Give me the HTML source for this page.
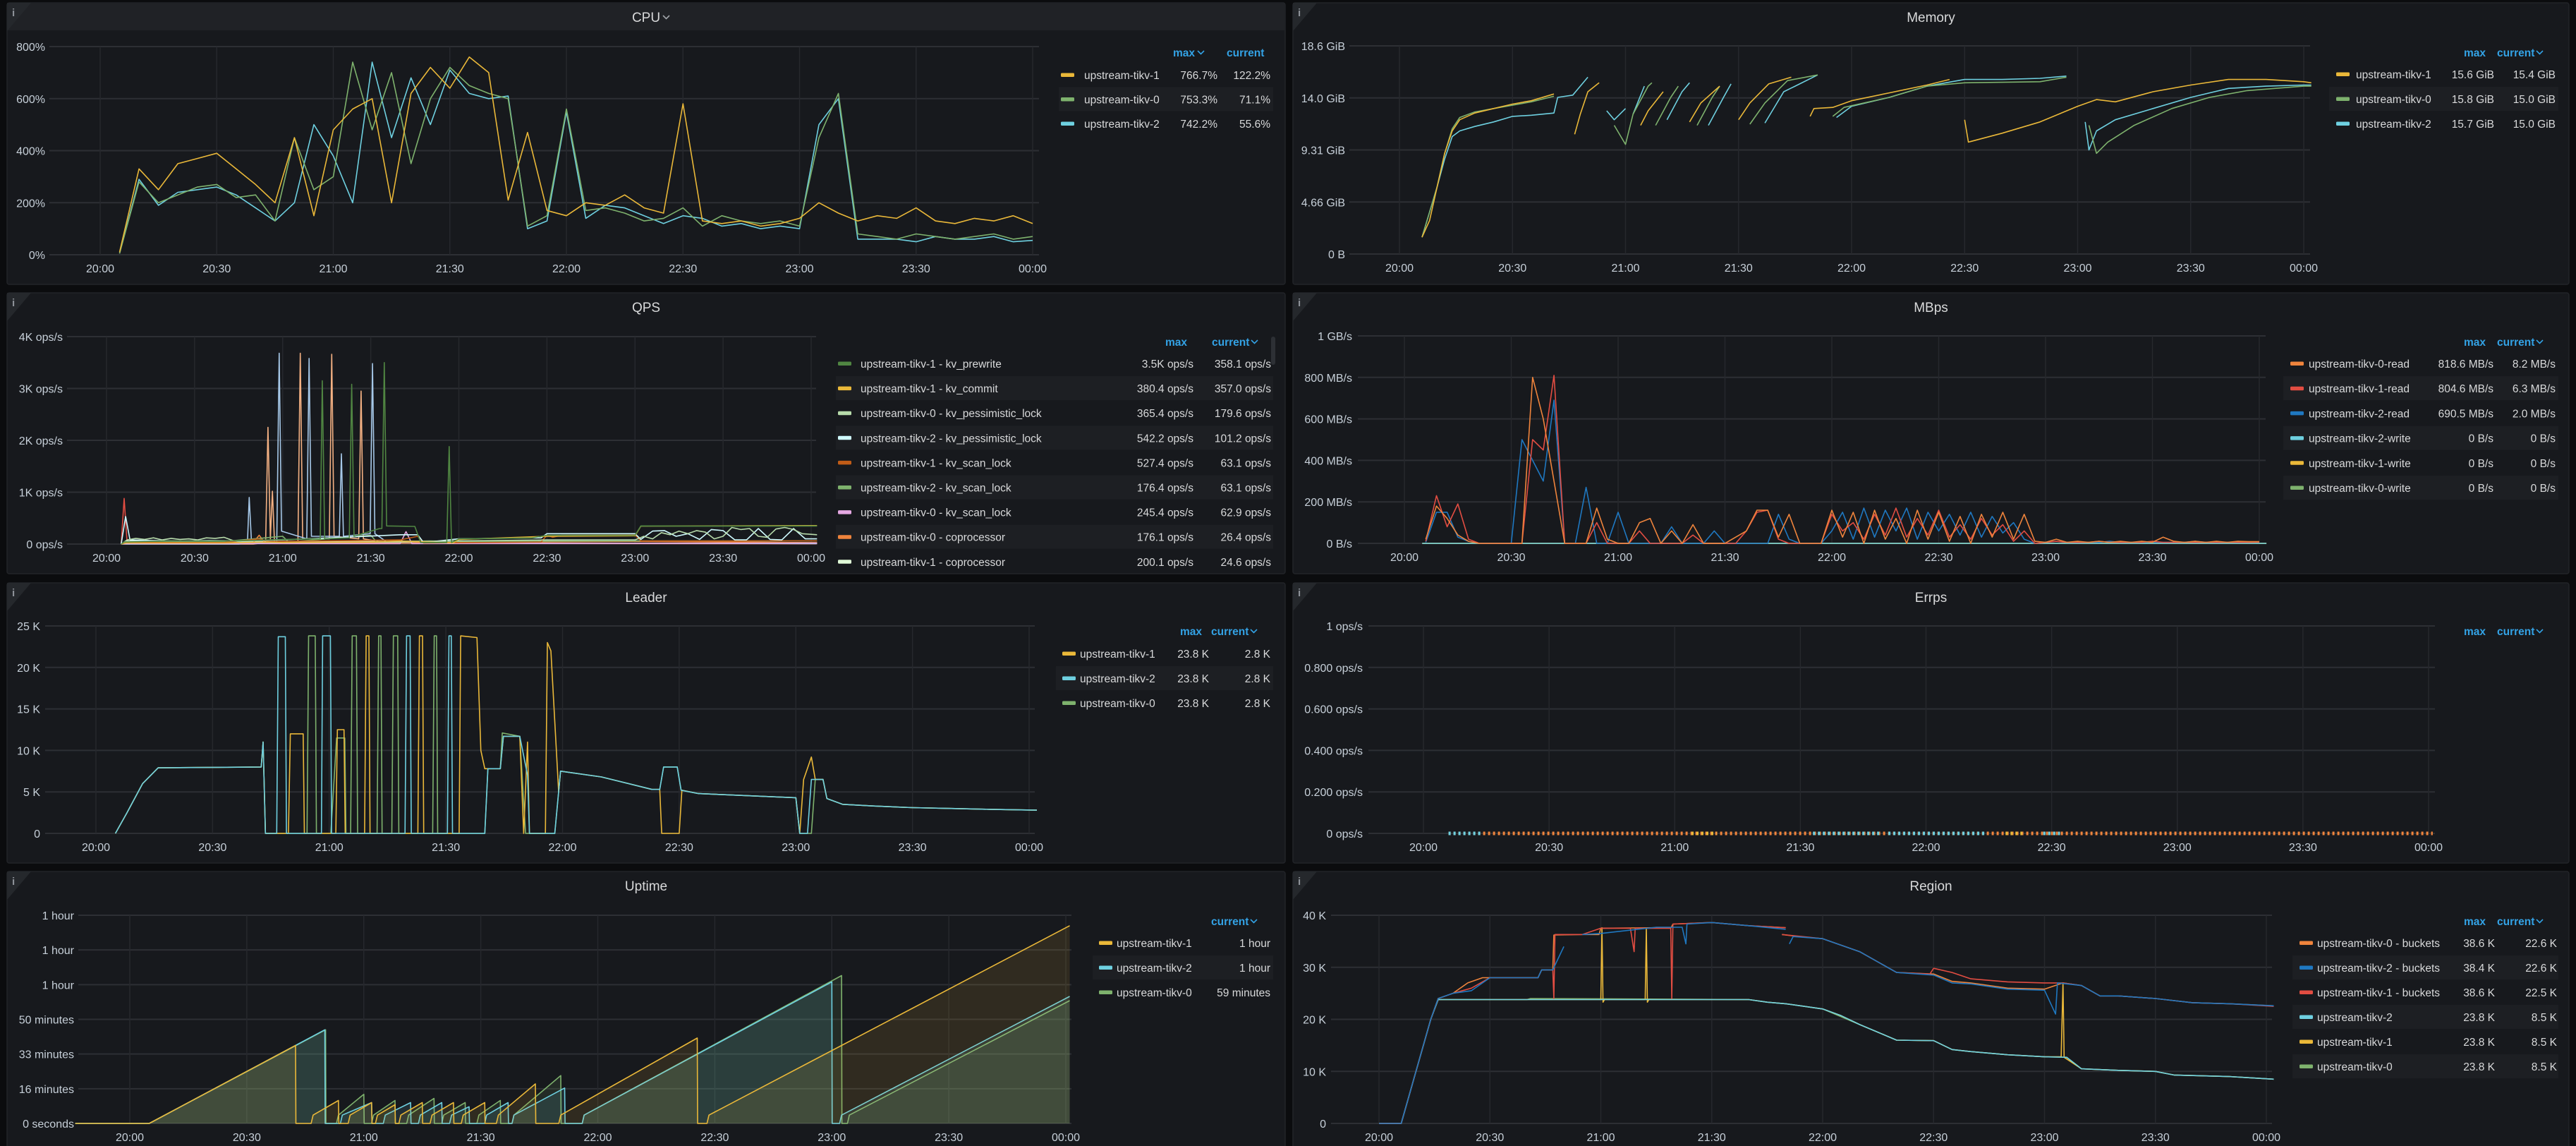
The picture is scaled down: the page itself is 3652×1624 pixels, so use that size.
<!DOCTYPE html>
<html><head><meta charset="utf-8">
<style>
html,body{margin:0;padding:0;background:#0b0c0e;width:3652px;height:1624px;overflow:hidden}
svg text{font-family:"Liberation Sans",sans-serif}
</style></head>
<body>
<svg id="dash" width="3652" height="1624" viewBox="0 0 3652 1624" xmlns="http://www.w3.org/2000/svg">
<rect x="0" y="0" width="3652" height="1624" fill="#0b0c0e"/>
<defs id="defs"></defs>
</svg>
<script>
// ---------- shared axis data ----------
const xTickMinutes = [0,30,60,90,120,150,180,210,240];
const xTickLabels = ['20:00','20:30','21:00','21:30','22:00','22:30','23:00','23:30','00:00'];

// ---------- CPU ----------
const cpuTicks = [0,200,400,600,800];
const cpuTickLabels = ['0%','200%','400%','600%','800%'];
const cpuTimes = [5,10,15,20,25,30,35,40,45,50,55,60,65,70,75,80,85,90,95,100,105,110,115,120,125,130,135,140,145,150,155,160,165,170,175,180,185,190,195,200,205,210,215,220,225,230,235,240];
const cpuTikv1 = [10,330,250,350,370,390,330,270,200,450,150,480,560,600,200,620,720,640,760,700,210,470,170,150,200,190,230,180,160,580,130,120,130,110,120,140,200,160,130,150,140,180,130,120,140,130,150,120];
const cpuTikv0 = [5,280,200,230,260,270,220,230,130,450,250,300,740,480,700,350,600,720,650,620,600,110,150,560,170,180,160,130,140,180,110,150,130,120,130,110,450,620,80,70,60,80,70,60,70,80,60,70];
const cpuTikv2 = [5,290,190,240,250,260,230,180,130,200,500,380,200,740,450,680,500,710,620,600,610,100,130,550,140,190,180,150,120,150,140,110,120,100,110,100,500,600,60,60,60,50,70,60,60,70,50,55];
const cpuNames = ['upstream-tikv-1','upstream-tikv-0','upstream-tikv-2'];
const cpuMax = ['766.7%','753.3%','742.2%'];
const cpuCur = ['122.2%','71.1%','55.6%'];

// ---------- Memory ----------
const memTicks = [0,4.65,9.3,13.95,18.6];
const memTickLabels = ['0 B','4.66 GiB','9.31 GiB','14.0 GiB','18.6 GiB'];
const memTikv1 = [[6,1.5],[8,3],[10,6],[12,9],[14,11],[16,12],[20,12.6],[25,13],[30,13.4],[35,13.7],[41,14.3],null,[46.5,10.7],[48,12.5],[50,14.5],[53,15.3],null,[64,11.5],[66,12.8],[70,14.5],null,[77,11.8],[80,13.5],[85,15.0],null,[90,12],[93,13.5],[98,15.2],[104,15.8],null,[109,12.3],[110,13.0],[115,13.1],[120,13.7],[130,14.4],[140,15.1],[146,15.6],null,[150,12],[151,10],[160,10.8],[170,11.8],[180,13.2],[185,13.8],[190,13.6],[200,14.5],[210,15.1],[220,15.6],[230,15.6],[240,15.4],[242,15.3]];
const memTikv0 = [[6,1.5],[10,6],[12,9],[14,11.2],[16,12.2],[20,12.7],[25,13],[30,13.3],[35,13.6],[41,14.1],null,[57,11.5],[60,9.8],[62,12.5],[66,15],[67,15.3],null,[68,11.5],[72,14],[74,15],null,[79,11.5],[83,14],[85,15],null,[93,11.6],[97,13.5],[103,15.5],[111,16.0],null,[115,12.3],[118,13.1],[130,14],[140,15],[150,15.3],[170,15.4],[177,15.8],null,[183,11.5],[185,9],[188,10],[195,11.5],[205,13],[215,14],[225,14.6],[240,15.0],[242,15.0]];
const memTikv2 = [[6,1.5],[10,6],[12,8.5],[14,10.5],[16,11],[20,11.4],[25,11.8],[30,12.3],[35,12.4],[41,12.6],[42,14],[46,14.2],[50,15.8],null,[55,12.8],[57,12],[60,13],null,[62,12.5],[65,15],null,[71,12],[75,14.5],[77,15.3],null,[82,11.5],[86,14],[88,15.2],null,[97,11.7],[102,14.5],[105,15.0],[111,16.0],null,[116,12.2],[120,13.2],[130,14],[140,15],[150,15.6],[160,15.6],[170,15.7],[177,15.9],null,[182,11.8],[183,9.3],[185,11],[190,12],[200,13],[210,14],[220,14.8],[230,15.0],[240,15.1],[242,15.1]];
const memNames = ['upstream-tikv-1','upstream-tikv-0','upstream-tikv-2'];
const memMax = ['15.6 GiB','15.8 GiB','15.7 GiB'];
const memCur = ['15.4 GiB','15.0 GiB','15.0 GiB'];

// ---------- QPS ----------
const qpsTicks = [0,1000,2000,3000,4000];
const qpsTickLabels = ['0 ops/s','1K ops/s','2K ops/s','3K ops/s','4K ops/s'];
const qPrewrite1 = [[5,0],[6,40],[20,60],[40,60],[50,70],[55,80],[70,100],[72.8,100],[73.5,3150],[74.3,100],[82.7,120],[83.5,3080],[84.3,150],[93,300],[93.8,300],[94.6,3500],[95.4,350],[105,340],[107,30],[115.9,30],[116.7,1880],[117.5,30],[120,100],[135,110],[145,120],[150,170],[180,170],[182,350],[200,345],[220,345],[242,348]];
const qCommit1 = [[5,0],[6,20],[40,20],[55,40],[60,30],[90,40],[100,60],[118,20],[120,90],[150,150],[180,160],[182,345],[242,357]];
const qPess0 = [[5,0],[7,80],[10,110],[13,90],[16,120],[19,80],[22,110],[25,90],[28,100],[31,80],[34,120],[37,110],[40,130],[43,70],[46,40],[60,30],[100,40],[120,60],[150,80],[180,80],[183,150],[186,100],[189,220],[192,180],[195,250],[198,200],[201,260],[204,230],[207,100],[210,150],[213,320],[216,280],[219,300],[222,150],[225,130],[228,290],[231,320],[234,280],[237,200],[242,180]];
const qPess2 = [[5,0],[6.5,530],[8,80],[15,70],[25,60],[35,70],[45,60],[60,80],[100,180],[106,180],[108,30],[120,100],[148,120],[150,200],[180,200],[182,90],[186,250],[190,260],[194,150],[198,200],[202,90],[206,280],[210,260],[214,80],[218,80],[222,300],[226,90],[230,80],[234,300],[238,100],[242,101]];
const qScan1 = [[5,0],[7,30],[40,30],[52,100],[55,50],[100,80],[106,150],[108,20],[148,40],[150,170],[152,130],[155,170],[180,175],[182,60],[242,63]];
const qScan2 = [[5,0],[7,40],[40,50],[60,150],[62,40],[90,170],[92,40],[110,60],[120,50],[180,60],[242,63]];
const qScan0 = [[5,10],[100,10],[102,240],[104,10],[242,20]];
const qCopr0 = [[5,0],[8,30],[50,30],[52,170],[54,20],[120,30],[150,40],[180,50],[242,26]];
const qCopr1 = [[5,0],[7,60],[20,50],[40,60],[60,40],[120,60],[180,60],[242,25]];
const qPrewrite2 = [[5,0],[45,0],[48,20],[48.6,900],[49.4,20],[58,50],[58.8,3680],[59.6,250],[68.2,100],[69,3580],[69.8,150],[79.3,150],[80,1740],[80.7,150],[89.8,200],[90.6,3480],[91.4,200],[96,20],[242,10]];
const qPrewrite0 = [[5,0],[50,0],[54.2,30],[55,2250],[55.8,100],[56.5,1020],[57.2,50],[65.2,50],[66,3680],[66.8,100],[75.9,100],[76.7,3660],[77.5,150],[85.9,100],[86.7,2950],[87.5,100],[96,20],[242,10]];
const qCopr2 = [[5,0],[6,880],[7,50],[10,20],[242,5]];
const qpsNames = ['upstream-tikv-1 - kv_prewrite','upstream-tikv-1 - kv_commit','upstream-tikv-0 - kv_pessimistic_lock','upstream-tikv-2 - kv_pessimistic_lock','upstream-tikv-1 - kv_scan_lock','upstream-tikv-2 - kv_scan_lock','upstream-tikv-0 - kv_scan_lock','upstream-tikv-0 - coprocessor','upstream-tikv-1 - coprocessor','upstream-tikv-2 - kv_prewrite','upstream-tikv-0 - kv_prewrite','upstream-tikv-2 - coprocessor'];
const qpsMax = ['3.5K ops/s','380.4 ops/s','365.4 ops/s','542.2 ops/s','527.4 ops/s','176.4 ops/s','245.4 ops/s','176.1 ops/s','200.1 ops/s','3.7K ops/s','3.7K ops/s','880.0 ops/s'];
const qpsCur = ['358.1 ops/s','357.0 ops/s','179.6 ops/s','101.2 ops/s','63.1 ops/s','63.1 ops/s','62.9 ops/s','26.4 ops/s','24.6 ops/s','10.0 ops/s','10.0 ops/s','5.0 ops/s'];

// ---------- MBps ----------
const mbTicks = [0,200,400,600,800,1000];
const mbTickLabels = ['0 B/s','200 MB/s','400 MB/s','600 MB/s','800 MB/s','1 GB/s'];
const mbTimes = [0,3,6,9,12,15,18,21,24,27,30,33,36,39,42,45,48,51,54,57,60,63,66,69,72,75,78,81,84,87,90,93,96,99,102,105,108,111,114,117,120,123,126,129,132,135,138,141,144,147,150,153,156,159,162,165,168,171,174,177,180,183,186,189,192,195,198,201,204,207,210,213,216,219,222,225,228,231,234,237,240];
const mbRead0 = [null,null,20,180,120,40,10,0,0,0, 0,0,800,600,300,0,0,0,170,20, 0,0,100,120,0,60,0,90,0,0, 0,30,60,160,160,30,140,0,0,0, 160,30,150,0,160,20,120,0,160,20, 150,10,130,0,140,30,150,20,140,10, 5,20,5,10,5,10,5,10,5,10, 5,30,10,5,10,5,10,5,10,8, 8];
const mbRead1 = [null,null,10,230,80,190,20,0,0,0, 0,0,500,450,810,0,0,0,100,0, 0,0,60,0,0,0,0,40,0,0, 0,0,60,150,160,20,0,0,0,0, 140,60,100,20,140,40,170,30,120,40, 160,30,90,20,120,40,90,10,60,0, 5,10,5,5,5,10,5,5,5,5, 10,5,5,5,5,5,5,5,5,5, 6];
const mbRead2 = [null,null,5,150,150,30,10,0,0,0, 0,500,400,300,690,0,0,270,0,0, 150,0,0,0,0,80,0,0,0,60, 0,0,0,0,0,140,20,0,0,0, 60,150,20,170,30,160,60,170,20,150, 60,140,40,150,30,130,50,100,20,0, 5,10,5,5,5,5,10,5,5,5, 5,5,5,5,10,5,5,5,5,5, 5];
const mbWrite2 = [[5,0],[242,0]];
const mbWrite1 = [[5,0],[242,0]];
const mbWrite0 = [[5,0],[242,0]];
const mbNames = ['upstream-tikv-0-read','upstream-tikv-1-read','upstream-tikv-2-read','upstream-tikv-2-write','upstream-tikv-1-write','upstream-tikv-0-write'];
const mbMax = ['818.6 MB/s','804.6 MB/s','690.5 MB/s','0 B/s','0 B/s','0 B/s'];
const mbCur = ['8.2 MB/s','6.3 MB/s','2.0 MB/s','0 B/s','0 B/s','0 B/s'];

// ---------- Leader ----------
const leaderTicks = [0,5,10,15,20,25];
const leaderTickLabels = ['0','5 K','10 K','15 K','20 K','25 K'];
const leaderHead = [[5,0],[8,2.5],[12,6],[16,7.9],[42.5,8],[43,11]];
const leaderMid = [[119.5,7.5],[130,6.8],[143,5.3],[145,5.3]];
const leaderTail = [[188,4.2],[192,3.5],[200,3.3],[210,3.1],[220,3.0],[230,2.9],[242,2.8]];
const leaderTikv1 = leaderHead.concat([[43.6,0],[49.5,0],[50,12],[53.3,12],[53.6,0],[61.7,0],[62.1,12.5],[63.8,12.5],[64.1,0],[69.1,0],[69.5,23.8],[70.2,23.8],[70.5,0],[82.8,0],[83.2,23.8],[84,23.8],[84.3,0],[93.4,0],[93.8,23.8],[98,23.6],[99,10],[100,7.8],[104,7.8],[104.8,11.7],[109,11.7],[110,0],[111,11],[111.5,0],[115.6,0],[116.1,23],[117,22],[119,5]], leaderMid, [[145.5,0],[150,0],[150.7,5.2],[155,4.8],[165,4.6],[175,4.4],[180,4.3],[181,0],[182,6.5],[184,9.2],[185,6.5],[187,6.5]], leaderTail);
const leaderTikv2 = leaderHead.concat([[43.6,0],[46.5,0],[46.9,23.7],[48.7,23.7],[49,0],[58,0],[58.3,23.8],[60.3,23.8],[60.6,0],[79.5,0],[79.9,23.8],[80.8,23.8],[81.1,0],[90.4,0],[90.8,23.8],[91.4,23.8],[91.7,0],[100,0],[100.8,7.8],[104,7.8],[104.8,11.7],[109,11.7],[111,7],[111.5,0],[118,0]], leaderMid, [[146,8],[149.5,8],[150.5,5.2],[155,4.8],[165,4.6],[175,4.4],[180,4.3],[181,0],[183,0],[184,6.5],[187,6.5]], leaderTail);
const leaderTikv0 = leaderHead.concat([[43.6,0],[54.3,0],[54.7,23.8],[56.4,23.8],[56.7,0],[60.4,0],[61.9,11.5],[64,11.5],[64.3,0],[65.5,0],[65.9,23.8],[67,23.8],[67.3,0],[72.3,0],[72.7,23.8],[73.3,23.8],[73.6,0],[76.1,0],[76.5,23.8],[77.6,23.8],[77.9,0],[86.6,0],[87,23.8],[87.6,23.8],[87.9,0],[100,0],[100.8,7.8],[104,7.8],[104.5,12.1],[109,11.7],[110.5,0],[118,0]], leaderMid, [[146,8],[149.5,8],[150.5,5.2],[155,4.8],[165,4.6],[175,4.4],[180,4.3],[181,0],[184,0],[185,6.5],[187,6.5]], leaderTail);
const leaderNames = ['upstream-tikv-1','upstream-tikv-2','upstream-tikv-0'];
const leaderMax = ['23.8 K','23.8 K','23.8 K'];
const leaderCur = ['2.8 K','2.8 K','2.8 K'];

// ---------- Errps ----------
const errTicks = [0,0.2,0.4,0.6,0.8,1];
const errTickLabels = ['0 ops/s','0.200 ops/s','0.400 ops/s','0.600 ops/s','0.800 ops/s','1 ops/s'];
const errTikv0 = [[6,0],[241,0]];
const errTikv2 = [[6,0],[14,0],null,[93,0],[109,0],null,[111,0],[134,0],null,[148,0],[152,0]];
const errTikv1 = [[64,0],[70,0],null,[139,0],[143,0]];

// ---------- Uptime ----------
const upTicks = [0,16.67,33.33,50,66.67,83.33,100];
const upTickLabels = ['0 seconds','16 minutes','33 minutes','50 minutes','1 hour','1 hour','1 hour'];
const upTikv1 = [[-14,0],[5,0],[42.5,37.5],[42.6,0],[46.5,0],[47,4],[53.5,11],[53.6,0],[56,0],[56.5,4],[62,10],[62.1,0],[63,0],[63.5,4],[68,9],[68.1,0],[69,0],[69.5,4],[75,10],[75.1,0],[77,0],[77.5,4],[83,10],[83.1,0],[85,0],[85.5,4],[91,10],[91.1,0],[94,0],[94.5,4],[104,19],[104.1,0],[110,0],[110.5,4],[145.5,41],[145.6,0],[148,0],[148.5,4],[241,95]];
const upTikv2 = [[-14,0],[5,0],[50,45],[50.1,0],[54,0],[54.5,4],[62,10],[62.1,0],[65,0],[65.5,4],[72,10],[72.1,0],[74,0],[74.5,4],[80,10],[80.1,0],[82,0],[82.5,4],[87,8],[87.1,0],[91,0],[91.5,4],[97,10],[97.1,0],[98,0],[98.5,4],[111.5,17],[111.6,0],[116,0],[116.5,4],[180,68],[180.1,0],[182,0],[182.5,4],[241,61]];
const upTikv0 = [[-14,0],[5,0],[50.2,45],[50.3,0],[53,0],[53.5,4],[60,14],[60.1,0],[62,0],[62.5,4],[68,11],[68.1,0],[71,0],[71.5,4],[78,12],[78.1,0],[80,0],[80.5,4],[86,10],[86.1,0],[89,0],[89.5,4],[95,11],[95.1,0],[98,0],[98.5,4],[110.5,23],[110.6,0],[116,0],[116.5,4],[182.5,71],[182.6,0],[184,0],[184.5,4],[241,59]];
const upNames = ['upstream-tikv-1','upstream-tikv-2','upstream-tikv-0'];
const upCur = ['1 hour','1 hour','59 minutes'];

// ---------- Region ----------
const rgTicks = [0,10,20,30,40];
const rgTickLabels = ['0','10 K','20 K','30 K','40 K'];
const rgBuckets0 = [[0,0],[6,0],[10,10],[14,20],[16,24],[20,25],[24,27],[28,28],[43,28],[44,29.5],[47,29.5],[47.3,36.2],[55,36.3],[59.5,36.3],[60,37.5],[75,37.6],[79,37.6],[79.5,38.3],[90,38.6],[100,38],[110,37.6],null,[109,36.3],[115,35.8],[120,35.5],[130,33],[140,29],[150,28.7],[155,27.3],[160,27],[170,26],[180,25.8],[185,27],[190,26.5],[195,24.5],[200,24.5],[210,24],[220,23.2],[230,23],[242,22.6]];
const rgBuckets2 = [[0,0],[6,0],[10,10],[14,20],[16,24],[20,25],[25,25.5],[30,28],[43,28],[44,29.5],[47,29.5],[50,34],null,[55,36.3],[60,36.5],[75,37.7],[82,37.7],[83,34.5],[83.3,38.3],[90,38.6],[100,38],[110,37.3],null,[111,34.5],[112,35.9],[120,35.5],[130,33],[140,29],[150,28.5],[155,27],[160,26.8],[170,25.8],[180,25.6],[183,21],[183.5,27],[190,26.5],[195,24.5],[200,24.5],[210,24],[220,23.2],[230,23],[242,22.6]];
const rgBuckets1 = [[0,0],[6,0],[10,10],[14,20],[16,24],[20,25],[25,26],[30,28],[43,28],[44,29.5],[47,29.5],[47.3,24],[47.6,36.3],[55,36.3],[60,37.5],[68,37.5],[69,33],[69.3,37.5],[78.9,37.5],[79.2,24],[79.5,38.3],[90,38.6],[100,38],[110,37.6],null,[109,36.3],[120,35.5],[130,33],[140,29],[149,28.7],[150,29.8],[155,29],[160,27.8],[170,27.2],[180,27],[185,27],[190,26.5],[195,24.5],[200,24.5],[210,24],[220,23.2],[230,23],[242,22.5]];
const rgTikv2 = [[0,0],[6,0],[10,10],[14,20],[16,23.8],[100,23.8],[105,23.3],[110,23],[115,22.5],[120,22],[125,20.7],[130,19],[135,17.5],[140,16],[150,15.9],[155,14.2],[160,13.8],[170,13.2],[180,12.8],[186,12.7],[190,10.5],[200,10.2],[210,10],[215,9.3],[230,9],[242,8.5]];
const rgTikv1 = [[0,0],[6,0],[10,10],[14,20],[16,23.8],[60,23.8],[60.3,37.6],[60.6,23.3],[61,23.8],[72,23.8],[72.3,37.5],[72.6,23.3],[73,23.8],[100,23.8],[105,23.3],[110,23],[115,22.5],[120,22],[125,20.7],[130,19],[135,17.5],[140,16],[150,15.9],[155,14.2],[160,13.8],[170,13.2],[180,12.8],[184.5,12.8],[185,27],[185.3,12.7],[190,10.5],[200,10.2],[210,10],[215,9.3],[230,9],[242,8.5]];
const rgTikv0 = [[0,0],[6,0],[10,10],[14,20],[16,23.8],[40,23.8],[41,24],[100,23.8],[105,23.3],[110,23],[120,22],[130,19],[140,16],[150,15.9],[155,14.2],[160,13.8],[170,13.2],[180,12.8],[186,12.7],[190,10.5],[200,10.2],[210,10],[215,9.3],[230,9],[242,8.5]];
const rgNames = ['upstream-tikv-0 - buckets','upstream-tikv-2 - buckets','upstream-tikv-1 - buckets','upstream-tikv-2','upstream-tikv-1','upstream-tikv-0'];
const rgMax = ['38.6 K','38.4 K','38.6 K','23.8 K','23.8 K','23.8 K'];
const rgCur = ['22.6 K','22.6 K','22.5 K','8.5 K','8.5 K','8.5 K'];

// ---------- rendering ----------
const root = document.getElementById('dash');
const defs = document.getElementById('defs');
const NS = 'http://www.w3.org/2000/svg';
function mk(tag, attrs, parent){const e=document.createElementNS(NS,tag);for(const k in attrs)e.setAttribute(k,attrs[k]);(parent||root).appendChild(e);return e;}
function txt(str, attrs, parent){const e=mk('text',attrs,parent);e.textContent=str;return e;}
function zip(ts, vs){return ts.map((t,i)=> vs[i]===null ? null : [t, vs[i]]);}
function chev(x, y, color, parent){
  const c = mk('path',{d:'M'+x+','+y+' l4.5,4.5 l4.5,-4.5',fill:'none',stroke:color,'stroke-width':1.6},parent);
  
  
  return c;
}

const Y='#EAB839', G='#7EB26D', C='#6ED0E0', O='#EF843C', R='#E24D42', B='#1F78C1';

const panels = [
  {id:'cpu',title:'CPU',x:10,y:4,w:1812,h:399,hover:true},
  {id:'memory',title:'Memory',x:1833,y:4,w:1809,h:399},
  {id:'qps',title:'QPS',x:10,y:415,w:1812,h:398},
  {id:'mbps',title:'MBps',x:1833,y:415,w:1809,h:398},
  {id:'leader',title:'Leader',x:10,y:826,w:1812,h:397},
  {id:'errps',title:'Errps',x:1833,y:826,w:1809,h:397},
  {id:'uptime',title:'Uptime',x:10,y:1235,w:1812,h:395},
  {id:'region',title:'Region',x:1833,y:1235,w:1809,h:395}
];

panels.forEach(p=>{
  const cp = mk('clipPath',{id:'clip-'+p.id},defs);
  mk('rect',{x:p.x,y:p.y,width:p.w,height:p.h},cp);
  const g = mk('g',{});
  
  
  const bg = mk('rect',{x:p.x,y:p.y,width:p.w,height:p.h,fill:'#17191d',stroke:'#222428','stroke-width':1.5,rx:3},g);
  
  
  if(p.hover){
    const hb = mk('rect',{x:p.x+1,y:p.y+1,width:p.w-2,height:38,fill:'#202226'},g);
    
    
  }
  const tri = mk('polygon',{points:(p.x)+','+(p.y)+' '+(p.x+34)+','+(p.y)+' '+(p.x)+','+(p.y+40),fill:'#25282c'},g);
  
  
  const it = txt('i',{x:p.x+7,y:p.y+19,'font-size':15,'font-weight':'bold',fill:'#8e939a'},g);
  
  
  const tt = txt(p.title,{x:p.x+p.w/2,y:p.y+27,'text-anchor':'middle','font-size':19,fill:'#d8d9da'},g);
  
  
  if(p.hover){ chev(p.x+p.w/2+24, p.y+18, '#9fa3a8', g); }
});

function drawChart(c){
  const g = mk('g',{'clip-path':'url(#clip-'+c.id+')'});
  
  
  const sx = t => c.x0 + (c.x1-c.x0)*t/240;
  const sy = v => c.yb - (c.yb-c.yt)*v/c.ymax;
  c.yTicks.forEach((v,i)=>{
    const ln = mk('line',{x1:c.gl,x2:c.gr,y1:sy(v),y2:sy(v),stroke:'#2d2f34','stroke-width':2},g);
    
    
    const lb = txt(c.yLabels[i],{x:c.lx,y:sy(v)+6,'text-anchor':'end','font-size':16,fill:'#c7d0d9'},g);
    
    
  });
  xTickMinutes.forEach((m,i)=>{
    const ln = mk('line',{x1:sx(m),x2:sx(m),y1:c.yt,y2:c.yb,stroke:'#26282d','stroke-width':1.5},g);
    
    
    const lb = txt(xTickLabels[i],{x:sx(m),y:c.yb+25,'text-anchor':'middle','font-size':16,fill:'#c7d0d9'},g);
    
    
  });
  const sg = mk('g',{},g);
  
  
  c.series.forEach(s=>{
    const segs=[]; let cur=null;
    s.pts.forEach(p=>{ if(p===null){cur=null;return;} if(!cur){cur=[];segs.push(cur);} cur.push(p); });
    if(s.fill){
      let da='';
      segs.forEach(sg2=>{ da+='M'+sx(sg2[0][0]).toFixed(1)+','+sy(0).toFixed(1); sg2.forEach(p=>{da+='L'+sx(p[0]).toFixed(1)+','+sy(p[1]).toFixed(1);}); da+='L'+sx(sg2[sg2.length-1][0]).toFixed(1)+','+sy(0).toFixed(1)+'Z'; });
      const a = mk('path',{d:da,fill:s.color,'fill-opacity':0.12,stroke:'none'},sg);
      
      
    }
    let d='';
    segs.forEach(sg2=>{ sg2.forEach((p,i)=>{ d+=(i?'L':'M')+sx(p[0]).toFixed(1)+','+sy(p[1]).toFixed(1); }); });
    const attrs = {d:d,fill:'none',stroke:s.color,'stroke-width':s.dash?5:1.6,'stroke-linejoin':'round'};
    if(s.dash) attrs['stroke-dasharray']='3,4';
    const ln = mk('path',attrs,sg);
    
    
  });
}

function drawLegend(L){
  const g = mk('g',{'clip-path':'url(#clip-'+L.id+')'});
  
  
  if(L.maxHX){
    const h = txt('max',{x:L.maxHX,y:L.hy+6,'font-size':15.5,'font-weight':'bold',fill:'#33a2e5'},g);
    
    
    if(L.sort==='max') chev(L.maxHX+35, L.hy-2, '#33a2e5', g);
  }
  const h2 = txt('current',{x:L.curHX,y:L.hy+6,'font-size':15.5,'font-weight':'bold',fill:'#33a2e5'},g);
  
  
  if(L.sort==='current') chev(L.curHX+56, L.hy-2, '#33a2e5', g);
  (L.names||[]).forEach((n,i)=>{
    const cy = L.y0 + L.step*i;
    const row = mk('g',{},g);
    
    
    if(i%2===1){
      const hl = mk('rect',{x:L.hl[0],y:cy-17,width:L.hl[1]-L.hl[0],height:34,fill:'#1d1f23'},row);
      
      
    }
    const sw = mk('rect',{x:L.sw,y:cy-2.5,width:19,height:5.5,rx:1.5,fill:L.colors[i]},row);
    
    
    const nt = txt(n,{x:L.nx,y:cy+6,'font-size':15.5,fill:'#d8d9da'},row);
    
    
    if(L.max){
      const mt = txt(L.max[i],{x:L.maxR,y:cy+6,'text-anchor':'end','font-size':15.5,fill:'#d8d9da'},row);
      
      
    }
    const ct = txt(L.cur[i],{x:L.curR,y:cy+6,'text-anchor':'end','font-size':15.5,fill:'#d8d9da'},row);
    
    
  });
}

// CPU
drawChart({id:'cpu',x0:142,x1:1464,gl:70,gr:1473,yt:66,yb:361,ymax:800,lx:64,yTicks:cpuTicks,yLabels:cpuTickLabels,
  series:[{key:'tikv-2',color:C,pts:zip(cpuTimes,cpuTikv2)},{key:'tikv-0',color:G,pts:zip(cpuTimes,cpuTikv0)},{key:'tikv-1',color:Y,pts:zip(cpuTimes,cpuTikv1)}]});
drawLegend({id:'cpu',hy:74,maxHX:1663,curHX:1739,sort:'max',y0:106,step:34.5,sw:1504,nx:1537,maxR:1726,curR:1801,hl:[1501,1805],names:cpuNames,max:cpuMax,cur:cpuCur,colors:[Y,G,C]});

// Memory
drawChart({id:'memory',x0:1984,x1:3266,gl:1913,gr:3275,yt:65,yb:360,ymax:18.6,lx:1907,yTicks:memTicks,yLabels:memTickLabels,
  series:[{key:'tikv-2',color:C,pts:memTikv2},{key:'tikv-0',color:G,pts:memTikv0},{key:'tikv-1',color:Y,pts:memTikv1}]});
drawLegend({id:'memory',hy:74,maxHX:3493,curHX:3540,sort:'current',y0:105,step:35,sw:3312,nx:3340,maxR:3536,curR:3623,hl:[3302,3627],names:memNames,max:memMax,cur:memCur,colors:[Y,G,C]});

// QPS
const qpsColors = ['#508642',Y,'#B7DBAB','#CFFAFF','#C15C17',G,'#E5A8E2',O,'#E0F9D7','#A6C8E8','#F4B183',R];
drawChart({id:'qps',x0:151,x1:1150,gl:95,gr:1157,yt:477,yb:771,ymax:4000,lx:89,yTicks:qpsTicks,yLabels:qpsTickLabels,
  series:[{key:'tikv-2-coprocessor',color:R,pts:qCopr2},{key:'tikv-0-kv-prewrite',color:'#F4B183',pts:qPrewrite0},{key:'tikv-2-kv-prewrite',color:'#A6C8E8',pts:qPrewrite2},
    {key:'tikv-1-coprocessor',color:'#E0F9D7',pts:qCopr1},{key:'tikv-0-coprocessor',color:O,pts:qCopr0},{key:'tikv-0-kv-scan-lock',color:'#E5A8E2',pts:qScan0},
    {key:'tikv-2-kv-scan-lock',color:G,pts:qScan2},{key:'tikv-1-kv-scan-lock',color:'#C15C17',pts:qScan1},{key:'tikv-2-kv-pessimistic-lock',color:'#CFFAFF',pts:qPess2},
    {key:'tikv-0-kv-pessimistic-lock',color:'#B7DBAB',pts:qPess0},{key:'tikv-1-kv-commit',color:Y,pts:qCommit1},{key:'tikv-1-kv-prewrite',color:'#508642',pts:qPrewrite1}]});
drawLegend({id:'qps',hy:484,maxHX:1652,curHX:1718,sort:'current',y0:515,step:35.1,sw:1188,nx:1220,maxR:1692,curR:1802,hl:[1185,1805],names:qpsNames,max:qpsMax,cur:qpsCur,colors:qpsColors});
const sb = mk('rect',{x:1802,y:477,width:6,height:40,rx:3,fill:'#2d3035'});



// MBps
drawChart({id:'mbps',x0:1991,x1:3203,gl:1925,gr:3212,yt:476,yb:770,ymax:1000,lx:1917,yTicks:mbTicks,yLabels:mbTickLabels,
  series:[{key:'tikv-0-write',color:G,pts:mbWrite0},{key:'tikv-1-write',color:Y,pts:mbWrite1},{key:'tikv-2-write',color:C,pts:mbWrite2},
    {key:'tikv-2-read',color:B,pts:zip(mbTimes,mbRead2)},{key:'tikv-1-read',color:R,pts:zip(mbTimes,mbRead1)},{key:'tikv-0-read',color:O,pts:zip(mbTimes,mbRead0)}]});
drawLegend({id:'mbps',hy:484,maxHX:3493,curHX:3540,sort:'current',y0:515,step:35.2,sw:3247,nx:3273,maxR:3535,curR:3623,hl:[3237,3627],names:mbNames,max:mbMax,cur:mbCur,colors:[O,R,B,C,Y,G]});

// Leader
drawChart({id:'leader',x0:136,x1:1459,gl:64,gr:1467,yt:887,yb:1181,ymax:25,lx:57,yTicks:leaderTicks,yLabels:leaderTickLabels,
  series:[{key:'tikv-0',color:G,pts:leaderTikv0},{key:'tikv-1',color:Y,pts:leaderTikv1},{key:'tikv-2',color:C,pts:leaderTikv2}]});
drawLegend({id:'leader',hy:894,maxHX:1673,curHX:1717,sort:'current',y0:926,step:35,sw:1506,nx:1531,maxR:1714,curR:1801,hl:[1497,1805],names:leaderNames,max:leaderMax,cur:leaderCur,colors:[Y,C,G]});

// Errps
drawChart({id:'errps',x0:2018,x1:3443,gl:1940,gr:3452,yt:887,yb:1181,ymax:1,lx:1932,yTicks:errTicks,yLabels:errTickLabels,
  series:[{key:'tikv-0',color:O,pts:errTikv0,dash:true},{key:'tikv-2',color:C,pts:errTikv2,dash:true},{key:'tikv-1',color:Y,pts:errTikv1,dash:true}]});
drawLegend({id:'errps',hy:894,maxHX:3493,curHX:3540,sort:'current',y0:926,step:35,names:[],cur:[],colors:[]});

// Uptime
drawChart({id:'uptime',x0:184,x1:1511,gl:111,gr:1519,yt:1297,yb:1592,ymax:100,lx:105,yTicks:upTicks,yLabels:upTickLabels,
  series:[{key:'tikv-0',color:G,pts:upTikv0,fill:true},{key:'tikv-2',color:C,pts:upTikv2,fill:true},{key:'tikv-1',color:Y,pts:upTikv1,fill:true}]});
drawLegend({id:'uptime',hy:1305,curHX:1717,sort:'current',y0:1336,step:35,sw:1558,nx:1583,curR:1801,hl:[1549,1805],names:upNames,cur:upCur,colors:[Y,C,G]});

// Region
drawChart({id:'region',x0:1955,x1:3213,gl:1887,gr:3221,yt:1297,yb:1592,ymax:40,lx:1880,yTicks:rgTicks,yLabels:rgTickLabels,
  series:[{key:'tikv-0',color:G,pts:rgTikv0},{key:'tikv-1',color:Y,pts:rgTikv1},{key:'tikv-2',color:C,pts:rgTikv2},
    {key:'tikv-0-buckets',color:O,pts:rgBuckets0},{key:'tikv-1-buckets',color:R,pts:rgBuckets1},{key:'tikv-2-buckets',color:B,pts:rgBuckets2}]});
drawLegend({id:'region',hy:1305,maxHX:3493,curHX:3540,sort:'current',y0:1336,step:35,sw:3260,nx:3285,maxR:3537,curR:3625,hl:[3250,3627],names:rgNames,max:rgMax,cur:rgCur,colors:[O,B,R,C,Y,G]});
</script>
</body></html>
